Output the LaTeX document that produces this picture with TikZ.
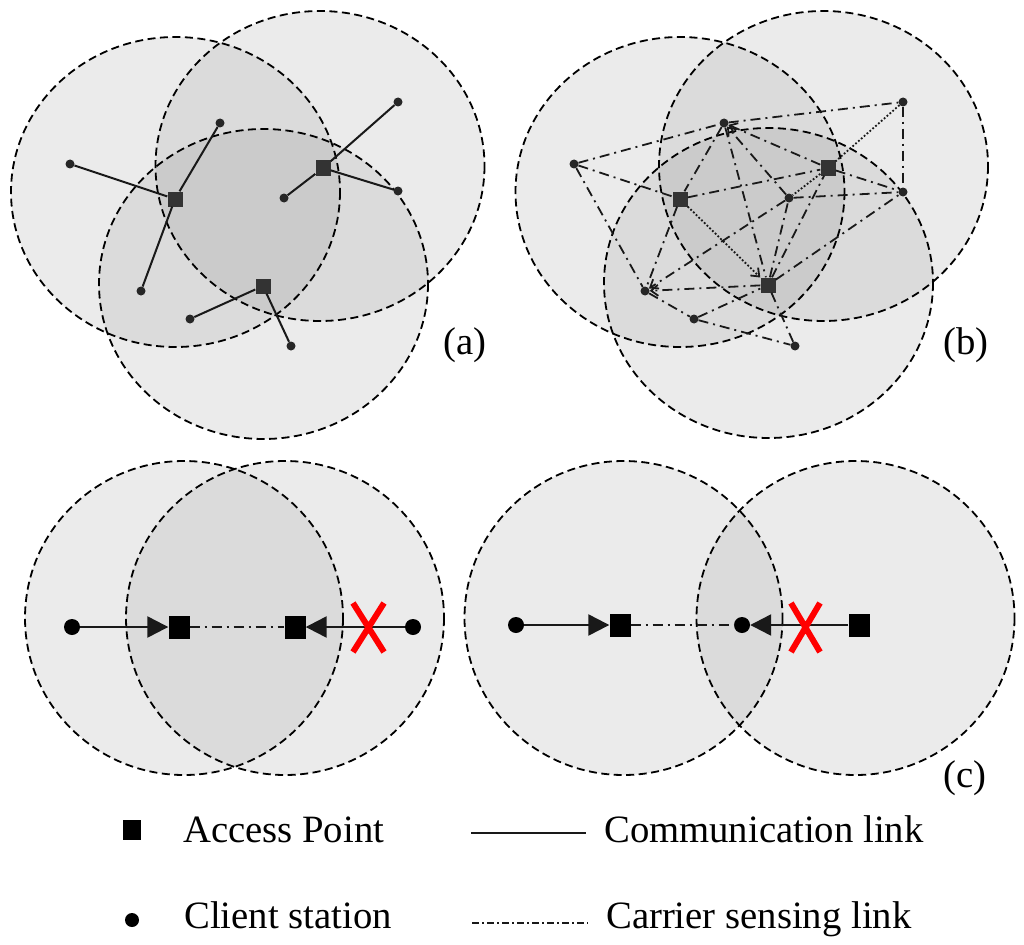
\documentclass[tikz,border=0pt]{standalone}
\usepackage{fontspec}
\setmainfont{Liberation Serif}
\usetikzlibrary{arrows.meta}

\definecolor{zoneone}{HTML}{EBEBEB}
\definecolor{zonetwo}{HTML}{DBDBDB}
\definecolor{zonethree}{HTML}{CBCBCB}

\tikzset{
	cell/.style={x radius=164.5,y radius=155},
	cellc/.style={x radius=159,y radius=157},
	rim/.style={draw=black,line width=1.8pt,dash pattern=on 8pt off 4.5pt},
	ap/.style={rectangle,fill=black!80,minimum width=15pt,minimum height=15pt,inner sep=0pt},
	client/.style={circle,fill=black!85,minimum size=9pt,inner sep=0pt},
	bigap/.style={rectangle,fill=black,minimum width=21pt,minimum height=23pt,inner sep=0pt},
	bigclient/.style={circle,fill=black,minimum size=16pt,inner sep=0pt},
	comm/.style={draw=black!90,line width=2pt},
	sense/.style={draw=black!90,line width=1.8pt,dash pattern=on 10pt off 5pt on 2pt off 5pt},
	near/.style={draw=black!90,line width=1.8pt,dotted},
	barb/.style={-{Straight Barb[length=7pt,width=11pt]}},
	commtip/.style={comm,line width=2.4pt,-{Triangle[length=21pt,width=21pt]}},
	cross/.style={draw=red,line width=6pt},
	lbl/.style={inner sep=0pt,anchor=base west,font=\fontsize{38.7}{40}\selectfont},
}

% grey zones of three overlapping cells
\newcommand{\threecells}[3]{
	\foreach \c in {#1,#2,#3} {\fill[zoneone] \c ellipse[cell];}
	\begin{scope}\clip #1 ellipse[cell]; \fill[zonetwo] #2 ellipse[cell]; \end{scope}
	\begin{scope}\clip #1 ellipse[cell]; \fill[zonetwo] #3 ellipse[cell]; \end{scope}
	\begin{scope}\clip #2 ellipse[cell]; \fill[zonetwo] #3 ellipse[cell]; \end{scope}
	\begin{scope}\clip #1 ellipse[cell]; \clip #2 ellipse[cell]; \fill[zonethree] #3 ellipse[cell]; \end{scope}
	\foreach \c in {#1,#2,#3} {\draw[rim] \c ellipse[cell];}
}
\newcommand{\twocells}[2]{
	\foreach \c in {#1,#2} {\fill[zoneone] \c ellipse[cellc];}
	\begin{scope}\clip #1 ellipse[cellc]; \fill[zonetwo] #2 ellipse[cellc]; \end{scope}
	\foreach \c in {#1,#2} {\draw[rim] \c ellipse[cellc];}
}

\begin{document}
\begin{tikzpicture}[x=1pt,y=-1pt]
	\useasboundingbox (0,0) rectangle (1024,944);

	% (a)
	\threecells{(175.5,192)}{(320,166)}{(263.5,284)}
	\foreach \n/\x/\y in {1/70/164,2/220/123,3/398/102,4/398/191,5/284/198,6/141/291,7/190/319,8/291/346}
		\node[client] (a\n) at (\x,\y) {};
	\node[ap] (aap1) at (175,199) {};
	\node[ap] (aap2) at (323,168) {};
	\node[ap] (aap3) at (263,286) {};
	\foreach \p/\q in {aap1/a1,aap1/a2,aap1/a6,aap2/a3,aap2/a4,aap2/a5,aap3/a7,aap3/a8}
		\draw[comm] (\p) -- (\q);
	\node[lbl] (alabel) at (443,354) {(a)};

	% (b)
	\threecells{(680,192)}{(823.5,166)}{(768.5,283)}
	\foreach \n/\x/\y in {1/574/164,2/724/123,3/903/102,4/903/192,5/789/198,6/645/291,7/694/319,8/795/346}
		\node[client] (b\n) at (\x,\y) {};
	\node[ap] (bap1) at (680,199) {};
	\node[ap] (bap2) at (828,168) {};
	\node[ap] (bap3) at (768,285) {};
	\foreach \p/\q in {b1/b2,b2/b3,b1/bap1,b1/b6,b3/b4,b2/bap1,b2/bap3,bap1/bap2,bap2/b4,b5/b4,bap1/b6,b6/b7,b7/bap3,b7/b8,bap3/b8,bap3/b5,bap3/bap2,bap3/b4}
		\draw[sense] (\p) -- (\q);
	\foreach \p/\q in {b5/b2,bap2/b2,b5/b6,bap3/b6}
		\draw[sense,barb] (\p) -- (\q);
	\draw[near] (b3) -- (bap2);
	\draw[near] (bap2) -- (b5);
	\draw[near,barb] (bap1) -- (bap3);
	\node[lbl] (blabel) at (943,354) {(b)};

	% (c)
	\twocells{(184,618)}{(285,618)}
	\twocells{(623.5,618)}{(855.5,618)}
	\node[bigclient] (c1) at (72,627) {};
	\node[bigap] (cap1) at (179,627) {};
	\node[bigap] (cap2) at (295,627) {};
	\node[bigclient] (c2) at (413,627) {};
	\node[bigclient] (c3) at (516,625) {};
	\node[bigap] (cap3) at (620,625) {};
	\node[bigclient] (c4) at (742,625) {};
	\node[bigap] (cap4) at (859,625) {};
	\draw[commtip] (c1) -- (cap1);
	\draw[commtip] (c2) -- (cap2);
	\draw[commtip] (c3) -- (cap3);
	\draw[commtip] (cap4) -- (c4);
	\draw[sense] (cap1) -- (cap2);
	\draw[sense] (cap3) -- (c4);
	\draw[cross] (353,603) -- (384,652) (384,603) -- (353,652);
	\draw[cross] (791,603) -- (820,652) (820,603) -- (791,652);
	\node[lbl] (clabel) at (943,787) {(c)};

	% legend
	\node[rectangle,fill=black,minimum width=18pt,minimum height=20pt,inner sep=0pt] (keyap) at (132,830) {};
	\node[circle,fill=black,minimum size=14pt,inner sep=0pt] (keyclient) at (132,920) {};
	\node[lbl] (keyaptext) at (183,842) {Access Point};
	\node[lbl] (keyclienttext) at (184,928) {Client station};
	\coordinate (commfrom) at (471,833);
	\coordinate (commto) at (586,833);
	\coordinate (sensefrom) at (472,923);
	\coordinate (senseto) at (588,923);
	\draw[comm] (commfrom) -- (commto);
	\draw[sense,line width=1.2pt,dash pattern=on 7pt off 3pt on 2pt off 3pt] (sensefrom) -- (senseto);
	\node[lbl] (keycomm) at (604,842) {Communication link};
	\node[lbl] (keysense) at (606,928) {Carrier sensing link};
\end{tikzpicture}
\end{document}
